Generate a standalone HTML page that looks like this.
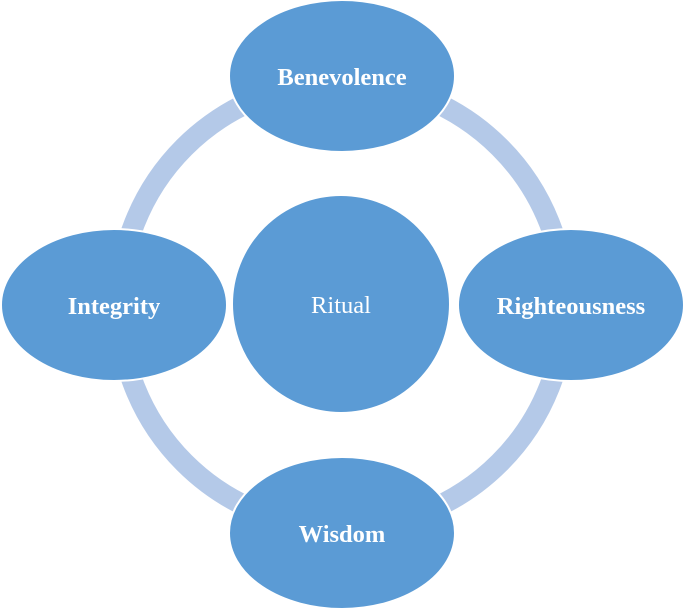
<!DOCTYPE html>
<html><head><style>body{margin:0;background:#fff}svg{display:block}</style></head>
<body>
<svg width="685" height="610" viewBox="0 0 685 610" xmlns="http://www.w3.org/2000/svg">
<circle cx="342" cy="305" r="223" fill="none" stroke="#b4c9e8" stroke-width="21"/>
<g fill="#5b9bd5" stroke="#fff" stroke-width="2">
<circle cx="341" cy="304" r="109"/>
<ellipse cx="342" cy="76" rx="113" ry="76"/>
<ellipse cx="571" cy="305" rx="113" ry="76"/>
<ellipse cx="114" cy="305" rx="113" ry="76"/>
<ellipse cx="342" cy="533" rx="113" ry="76"/>
</g>
<g fill="#fff" font-family="Liberation Serif, serif" font-size="24.5" text-anchor="middle">
<text x="342" y="85" font-weight="bold">Benevolence</text>
<text x="571" y="314" font-weight="bold">Righteousness</text>
<text x="114" y="314" font-weight="bold">Integrity</text>
<text x="342" y="542" font-weight="bold">Wisdom</text>
<text x="341" y="313">Ritual</text>
</g>
</svg>
</body></html>
